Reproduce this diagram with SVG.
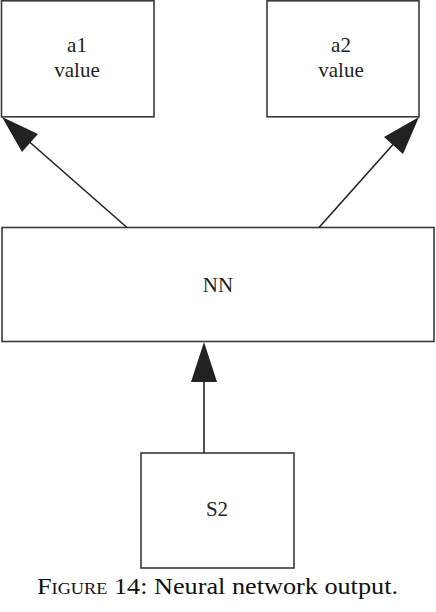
<svg xmlns="http://www.w3.org/2000/svg" width="436" height="612" viewBox="0 0 436 612">
<style>
.box{fill:#fff;stroke:#3a3a3a;stroke-width:1.6}
.lbl{font-family:"Liberation Serif","DejaVu Serif",serif;font-size:21px;fill:#222;text-anchor:middle}
.edge{stroke:#222;stroke-width:1.6;fill:none}
.head{fill:#222;stroke:none}
.cap{font-family:"Liberation Serif","DejaVu Serif",serif;font-size:23px;fill:#111}
.sc{font-variant:small-caps}
</style>
<rect width="436" height="612" fill="#fff"/>
<g id="a1">
<rect class="box" x="1.5" y="0.8" width="152.5" height="116"/>
<text class="lbl" x="77" y="52">a1</text>
<text class="lbl" x="77" y="77">value</text>
</g>
<g id="a2">
<rect class="box" x="267" y="0.8" width="152" height="116"/>
<text class="lbl" x="341" y="52">a2</text>
<text class="lbl" x="341" y="77">value</text>
</g>
<g id="NN">
<rect class="box" x="2" y="227.5" width="432" height="114"/>
<text class="lbl" x="218" y="292">NN</text>
</g>
<g id="S2">
<rect class="box" x="141" y="453" width="153" height="115"/>
<text class="lbl" x="217" y="516">S2</text>
</g>
<g id="connectors">
<line class="edge" x1="127" y1="227.5" x2="25" y2="138"/>
<polygon class="head" points="2,117 38,134 22,152"/>
<line class="edge" x1="319" y1="227.5" x2="397" y2="140"/>
<polygon class="head" points="419,117 384,137 403,154"/>
<line class="edge" x1="204" y1="453" x2="204" y2="378"/>
<polygon class="head" points="204,342 191,382 217,382"/>
</g>
<text class="cap" x="37" y="594" textLength="361" lengthAdjust="spacingAndGlyphs"><tspan class="sc">Figure</tspan> 14: Neural network output.</text>
</svg>
